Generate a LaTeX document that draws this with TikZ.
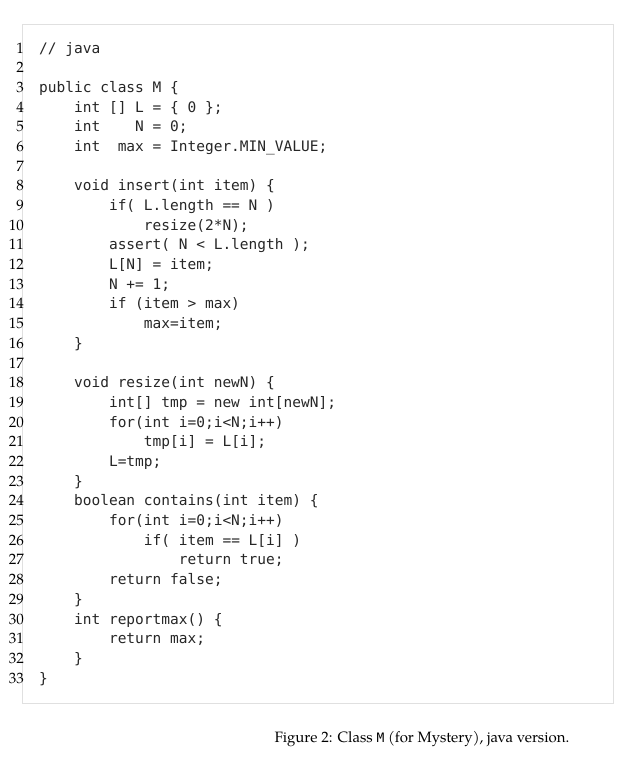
\documentclass[tikz,border=0pt]{standalone}
\usepackage{fontspec}
\setmonofont{DejaVu Sans Mono}
\setmainfont{TeX Gyre Pagella}[Ligatures=TeX]
\begin{document}
\begin{tikzpicture}[x=1pt,y=-1pt,
  code/.style={anchor=base west,inner sep=0,font=\ttfamily\fontsize{14.5}{14.5}\selectfont,text=black!85},
  num/.style={anchor=base east,inner sep=0,font=\fontsize{15}{15}\selectfont}]
\useasboundingbox (0,0) rectangle (633,772);
\draw[black!12,line width=0.8] (22,24) rectangle (613,703);
\newcommand\cl[3]{\node[num] (n#1) at (24,{48+(#1-1)*19.69+5}) {#1};
  \node[code] (c#1) at ({39+#2*8.73},{48+(#1-1)*19.69+5}) {#3};}
\newcommand\nl[1]{\node[num] (n#1) at (24,{48+(#1-1)*19.69+5}) {#1};}
\cl{1}{0}{// java}
\nl{2}
\cl{3}{0}{public class M \{}
\cl{4}{4}{int [] L = \{ 0 \};}
\cl{5}{4}{int~~~~N = 0;}
\cl{6}{4}{int~~max = Integer.MIN\_VALUE;}
\nl{7}
\cl{8}{4}{void insert(int item) \{}
\cl{9}{8}{if( L.length == N )}
\cl{10}{12}{resize(2*N);}
\cl{11}{8}{assert( N < L.length );}
\cl{12}{8}{L[N] = item;}
\cl{13}{8}{N += 1;}
\cl{14}{8}{if (item > max)}
\cl{15}{12}{max=item;}
\cl{16}{4}{\}}
\nl{17}
\cl{18}{4}{void resize(int newN) \{}
\cl{19}{8}{int[] tmp = new int[newN];}
\cl{20}{8}{for(int i=0;i<N;i++)}
\cl{21}{12}{tmp[i] = L[i];}
\cl{22}{8}{L=tmp;}
\cl{23}{4}{\}}
\cl{24}{4}{boolean contains(int item) \{}
\cl{25}{8}{for(int i=0;i<N;i++)}
\cl{26}{12}{if( item == L[i] )}
\cl{27}{16}{return true;}
\cl{28}{8}{return false;}
\cl{29}{4}{\}}
\cl{30}{4}{int reportmax() \{}
\cl{31}{8}{return max;}
\cl{32}{4}{\}}
\cl{33}{0}{\}}
\node[font=\fontsize{15}{15}\selectfont,inner sep=0] (cap) at (422,739)
  {Figure 2: Class {\ttfamily\fontsize{13}{13}\selectfont M} (for Mystery), java version.};
\end{tikzpicture}
\end{document}
